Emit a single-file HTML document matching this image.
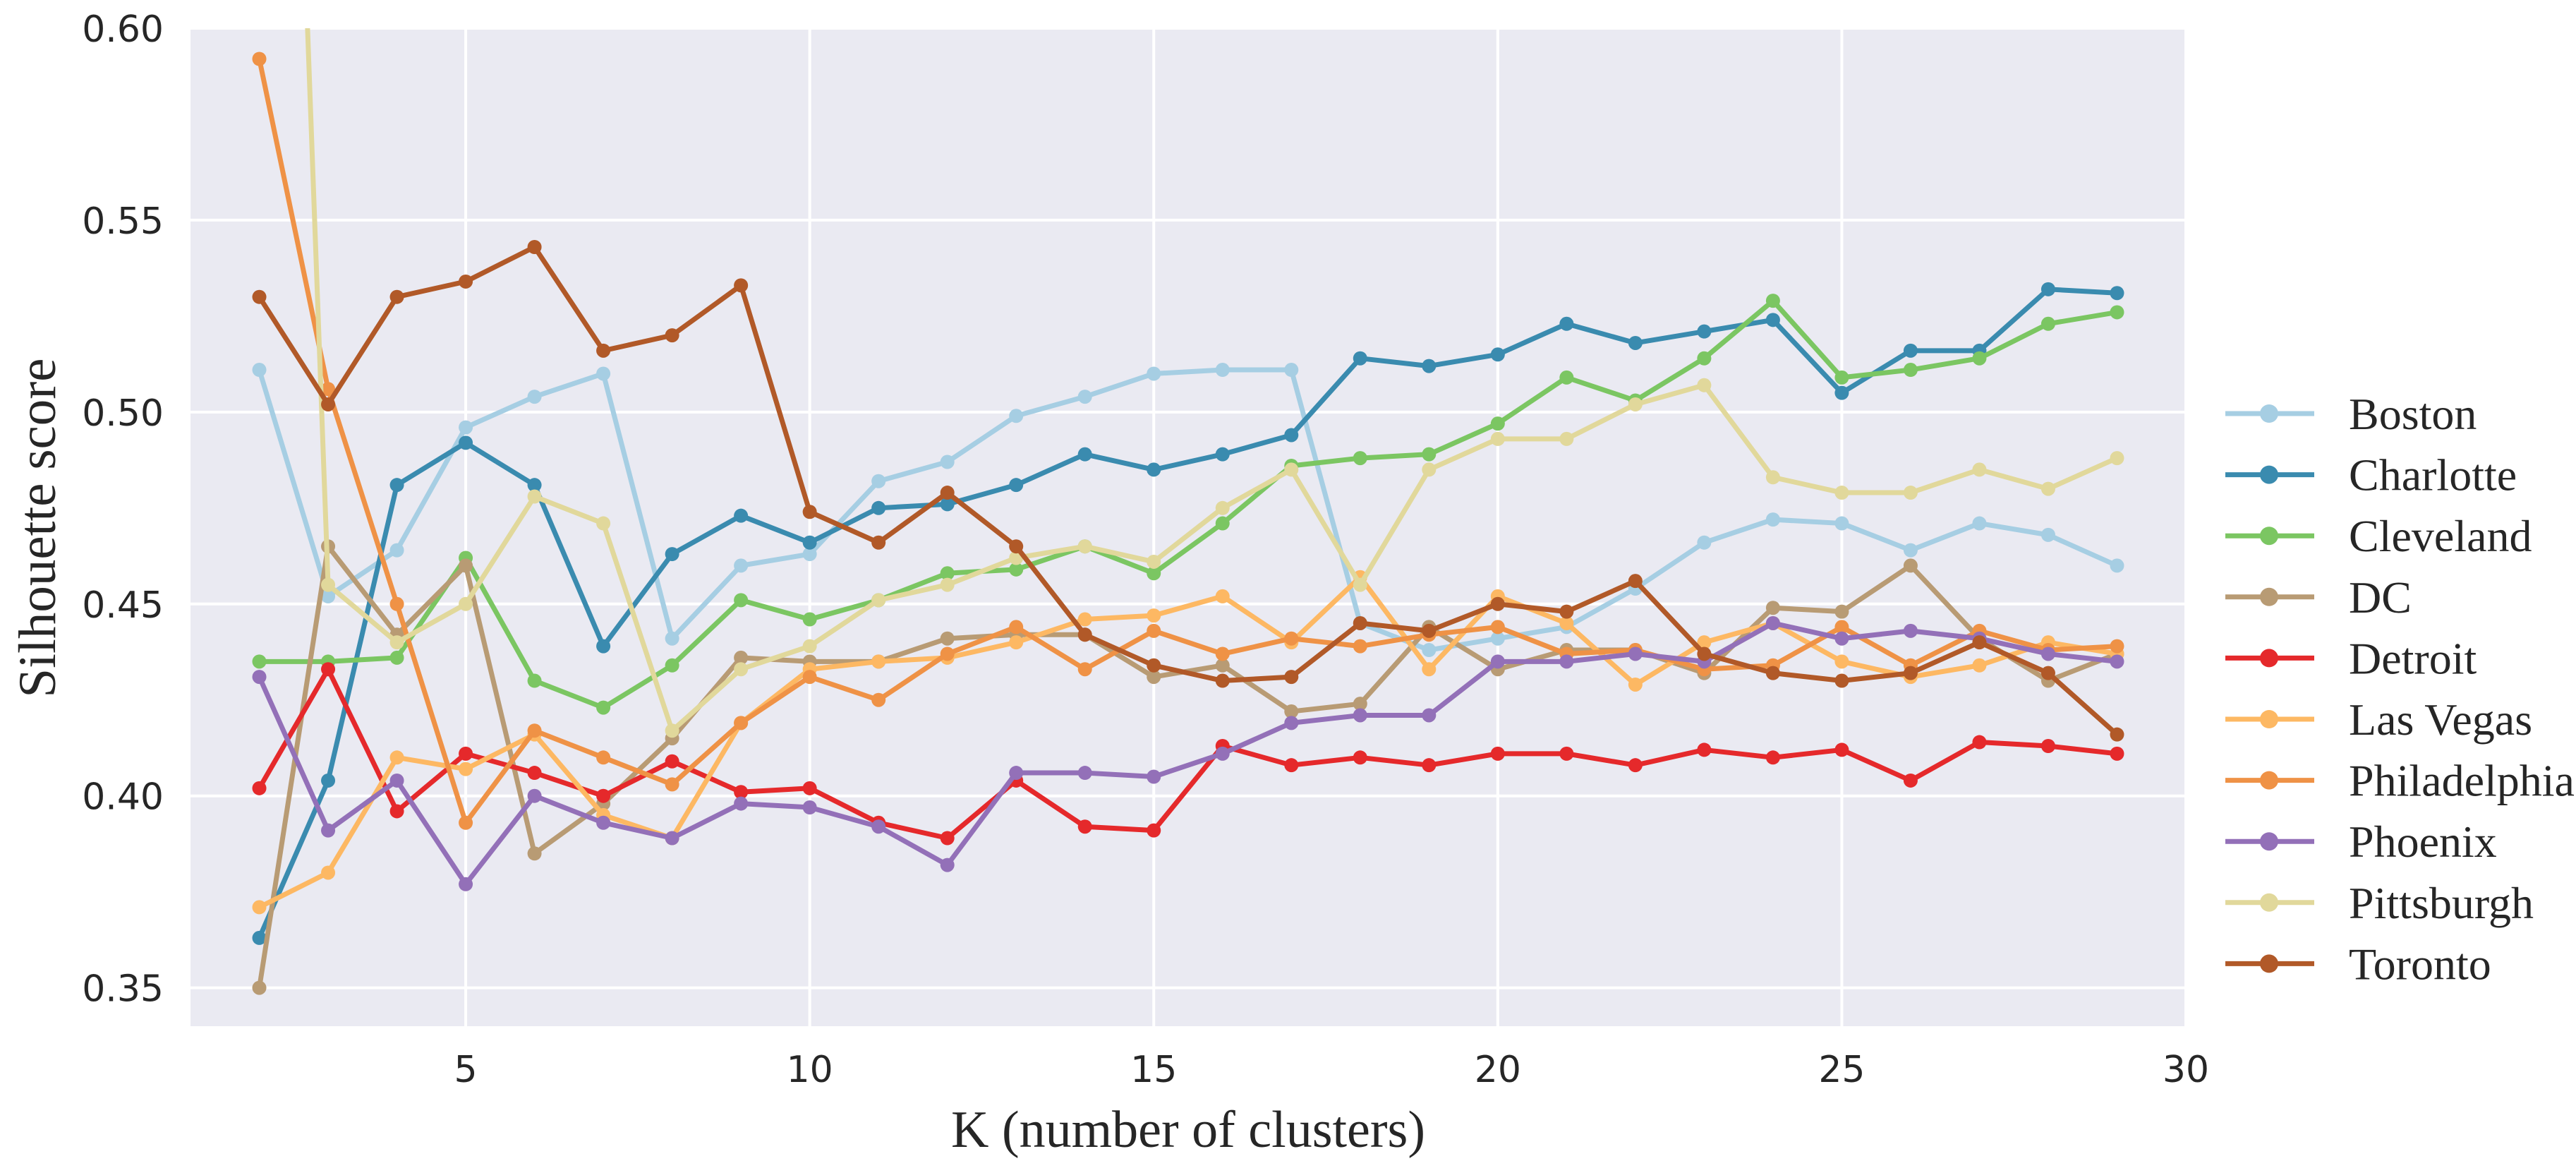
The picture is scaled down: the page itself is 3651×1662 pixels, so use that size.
<!DOCTYPE html>
<html><head><meta charset="utf-8"><style>
body{margin:0;background:#fff}
svg{display:block}
</style></head><body>
<svg id="chart" width="3651" height="1662" xmlns="http://www.w3.org/2000/svg"></svg>
<script>
const ks = [2,3,4,5,6,7,8,9,10,11,12,13,14,15,16,17,18,19,20,21,22,23,24,25,26,27,28,29];
const seriesNames = ["Boston","Charlotte","Cleveland","DC","Detroit","Las Vegas","Philadelphia","Phoenix","Pittsburgh","Toronto"];
const seriesColors = ["#a6cee3","#3a8baf","#7bc662","#b89b74","#e5292b","#fdb863","#ef9246","#9370b8","#e1d89b","#b15928"];
const boston = [0.511,0.452,0.464,0.496,0.504,0.510,0.441,0.460,0.463,0.482,0.487,0.499,0.504,0.510,0.511,0.511,0.445,0.438,0.441,0.444,0.454,0.466,0.472,0.471,0.464,0.471,0.468,0.460];
const charlotte = [0.363,0.404,0.481,0.492,0.481,0.439,0.463,0.473,0.466,0.475,0.476,0.481,0.489,0.485,0.489,0.494,0.514,0.512,0.515,0.523,0.518,0.521,0.524,0.505,0.516,0.516,0.532,0.531];
const cleveland = [0.435,0.435,0.436,0.462,0.430,0.423,0.434,0.451,0.446,0.451,0.458,0.459,0.465,0.458,0.471,0.486,0.488,0.489,0.497,0.509,0.503,0.514,0.529,0.509,0.511,0.514,0.523,0.526];
const dc = [0.350,0.465,0.442,0.460,0.385,0.398,0.415,0.436,0.435,0.435,0.441,0.442,0.442,0.431,0.434,0.422,0.424,0.444,0.433,0.438,0.438,0.432,0.449,0.448,0.460,0.441,0.430,0.437];
const detroit = [0.402,0.433,0.396,0.411,0.406,0.400,0.409,0.401,0.402,0.393,0.389,0.404,0.392,0.391,0.413,0.408,0.410,0.408,0.411,0.411,0.408,0.412,0.410,0.412,0.404,0.414,0.413,0.411];
const lasVegas = [0.371,0.380,0.410,0.407,0.416,0.395,0.389,0.419,0.433,0.435,0.436,0.440,0.446,0.447,0.452,0.440,0.457,0.433,0.452,0.445,0.429,0.440,0.445,0.435,0.431,0.434,0.440,0.437];
const philadelphia = [0.592,0.506,0.450,0.393,0.417,0.410,0.403,0.419,0.431,0.425,0.437,0.444,0.433,0.443,0.437,0.441,0.439,0.442,0.444,0.437,0.438,0.433,0.434,0.444,0.434,0.443,0.438,0.439];
const phoenix = [0.431,0.391,0.404,0.377,0.400,0.393,0.389,0.398,0.397,0.392,0.382,0.406,0.406,0.405,0.411,0.419,0.421,0.421,0.435,0.435,0.437,0.435,0.445,0.441,0.443,0.441,0.437,0.435];
const pittsburgh = [0.940,0.455,0.440,0.450,0.478,0.471,0.417,0.433,0.439,0.451,0.455,0.462,0.465,0.461,0.475,0.485,0.455,0.485,0.493,0.493,0.502,0.507,0.483,0.479,0.479,0.485,0.480,0.488];
const toronto = [0.530,0.502,0.530,0.534,0.543,0.516,0.520,0.533,0.474,0.466,0.479,0.465,0.442,0.434,0.430,0.431,0.445,0.443,0.450,0.448,0.456,0.437,0.432,0.430,0.432,0.440,0.432,0.416];
const seriesValues = [boston,charlotte,cleveland,dc,detroit,lasVegas,philadelphia,phoenix,pittsburgh,toronto];
const xTicks = [5,10,15,20,25,30];
const yTicks = [0.35,0.40,0.45,0.50,0.55,0.60];
const yTickLabels = ["0.35","0.40","0.45","0.50","0.55","0.60"];

const NS="http://www.w3.org/2000/svg";
const svg=document.getElementById('chart');
const L=270,R=3098,T=40,B=1454;
const xMin=1,xMax=30,yMin=0.34,yMax=0.60;
const xs=v=>L+(v-xMin)/(xMax-xMin)*(R-L);
const ys=v=>B-(v-yMin)/(yMax-yMin)*(B-T);
function mk(tag,attrs,parent){const e=document.createElementNS(NS,tag);for(const k in attrs)e.setAttribute(k,attrs[k]);(parent||svg).appendChild(e);return e;}

const defs=mk('defs',{});
const cp=mk('clipPath',{id:'plotclip'},defs);
mk('rect',{x:L,y:T,width:R-L,height:B-T},cp);

const bg=mk('rect',{x:L,y:T,width:R-L,height:B-T,fill:'#eaeaf2'});



const grid=mk('g',{stroke:'#fff','stroke-width':4});


xTicks.forEach(t=>{mk('line',{x1:xs(t),x2:xs(t),y1:T,y2:B},grid);});
yTicks.forEach(t=>{mk('line',{x1:L,x2:R,y1:ys(t),y2:ys(t)},grid);});

const xt=mk('g',{'font-family':'DejaVu Sans, sans-serif','font-size':52,fill:'#262626','text-anchor':'middle'});


xTicks.forEach(t=>{const e=mk('text',{x:xs(t),y:1533},xt);e.textContent=String(t);});
const yt=mk('g',{'font-family':'DejaVu Sans, sans-serif','font-size':52,fill:'#262626','text-anchor':'end'});


yTicks.forEach((t,i)=>{const e=mk('text',{x:232,y:ys(t)+19},yt);e.textContent=yTickLabels[i];});

const xtitle=mk('text',{x:(L+R)/2,y:1625,'font-family':'Liberation Serif, serif','font-size':74,fill:'#262626','text-anchor':'middle'});
xtitle.textContent='K (number of clusters)';


const ytitle=mk('text',{x:0,y:0,transform:'translate(78,748) rotate(-90)','font-family':'Liberation Serif, serif','font-size':75,fill:'#262626','text-anchor':'middle'});
ytitle.textContent='Silhouette score';



const plot=mk('g',{'clip-path':'url(#plotclip)'});
seriesValues.forEach((vals,si)=>{
  const g=mk('g',{},plot);
  
  
  const pts=vals.map((v,i)=>xs(ks[i])+','+ys(v)).join(' ');
  mk('polyline',{points:pts,fill:'none',stroke:seriesColors[si],'stroke-width':7,'stroke-linejoin':'round'},g);
  vals.forEach((v,i)=>{
    const c=mk('circle',{cx:xs(ks[i]),cy:ys(v),r:10,fill:seriesColors[si]},g);
    
    
  });
});

const leg=mk('g',{});


seriesNames.forEach((n,i)=>{
  const y=586+i*86.6;
  const g=mk('g',{},leg);
  
  
  mk('line',{x1:3154,x2:3280,y1:y,y2:y,stroke:seriesColors[i],'stroke-width':7},g);
  mk('circle',{cx:3216,cy:y,r:13,fill:seriesColors[i]},g);
  const t=mk('text',{x:3329,y:y+22,'font-family':'Liberation Serif, serif','font-size':64,fill:'#262626'},g);
  t.textContent=n;
});
</script>
</body></html>
